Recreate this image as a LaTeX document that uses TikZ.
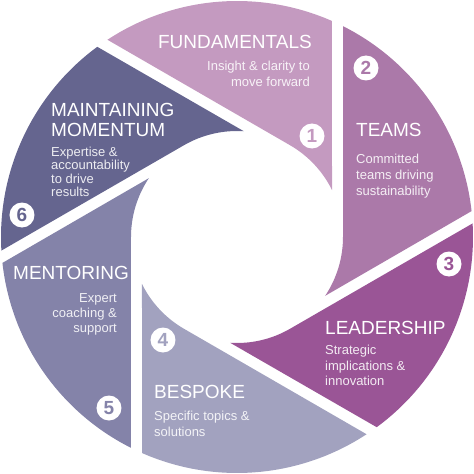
\documentclass[tikz,border=0pt]{standalone}
\usepackage{fontspec}
\setmainfont{Liberation Sans}
\definecolor{cone}{RGB}{196,154,192}
\definecolor{ctwo}{RGB}{171,121,169}
\definecolor{cthree}{RGB}{154,85,150}
\definecolor{cfour}{RGB}{162,162,191}
\definecolor{cfive}{RGB}{132,131,169}
\definecolor{csix}{RGB}{101,101,143}
\newcommand{\myblade}[3]{%
  \fill[#2] (#1+63.3:236pt) coordinate (#3o) -- (#1:106pt) coordinate (#3t)
    arc[start angle=#1, end angle=#1-33.7, radius=106pt] coordinate (#3p)
    -- (#1+6.3:236pt) arc[start angle=#1+6.3, end angle=#1+63.3, radius=236pt] -- cycle;}
\begin{document}
\begin{tikzpicture}[x=1pt,y=1pt,
  title/.style={font=\fontsize{19}{22}\selectfont, text=white, inner sep=0pt},
  sub/.style={font=\fontsize{13}{15}\selectfont, text=white, text opacity=0.88, inner sep=0pt},
  num/.style={circle, fill=white, minimum size=25pt, inner sep=0pt, font=\fontsize{19}{19}\selectfont\bfseries}]
\useasboundingbox (-237,-237) rectangle (237,237);
% blades
\myblade{60}{cone}{ba}
\myblade{0}{ctwo}{bb}
\myblade{300}{cthree}{bc}
\myblade{240}{cfour}{bd}
\myblade{180}{cfive}{be}
\myblade{120}{csix}{bf}
% FUNDAMENTALS
\node[title, anchor=base east] (t1) at (75,188) {FUNDAMENTALS};
\node[sub, anchor=base east] (s1a) at (73,166) {Insight \& clarity to};
\node[sub, anchor=base east] (s1b) at (73,150) {move forward};
% TEAMS
\node[title, anchor=base west] (t2) at (119,100) {TEAMS};
\node[sub, anchor=base west] (s2a) at (119,74) {Committed};
\node[sub, anchor=base west] (s2b) at (119,58) {teams driving};
\node[sub, anchor=base west] (s2c) at (119,42) {sustainability};
% LEADERSHIP
\node[title, anchor=base west] (t3) at (88,-97) {LEADERSHIP};
\node[sub, anchor=base west] (s3a) at (88,-117) {Strategic};
\node[sub, anchor=base west] (s3b) at (88,-133) {implications \&};
\node[sub, anchor=base west] (s3c) at (88,-148.5) {innovation};
% BESPOKE
\node[title, anchor=base west] (t4) at (-83,-161) {BESPOKE};
\node[sub, anchor=base west] (s4a) at (-83,-183) {Specific topics \&};
\node[sub, anchor=base west] (s4b) at (-83,-199) {solutions};
% MENTORING
\node[title, anchor=base west] (t5) at (-224,-42) {MENTORING};
\node[sub, anchor=base east] (s5a) at (-120,-65) {Expert};
\node[sub, anchor=base east] (s5b) at (-120,-80) {coaching \&};
\node[sub, anchor=base east] (s5c) at (-120,-95) {support};
% MAINTAINING MOMENTUM
\node[title, anchor=base west] (t6a) at (-186,121) {MAINTAINING};
\node[title, anchor=base west] (t6b) at (-186,100) {MOMENTUM};
\node[sub, anchor=base west] (s6a) at (-186,80.5) {Expertise \&};
\node[sub, anchor=base west] (s6b) at (-186,67.5) {accountability};
\node[sub, anchor=base west] (s6c) at (-186,54) {to drive};
\node[sub, anchor=base west] (s6d) at (-186,41) {results};
% numbers
\node[num, text=cone] (n1) at (75,101) {1};
\node[num, text=ctwo] (n2) at (129,169) {2};
\node[num, text=cthree] (n3) at (212,-27) {3};
\node[num, text=cfour] (n4) at (-74,-103) {4};
\node[num, text=cfive] (n5) at (-128,-171) {5};
\node[num, text=csix] (n6) at (-215,22) {6};
\end{tikzpicture}
\end{document}
